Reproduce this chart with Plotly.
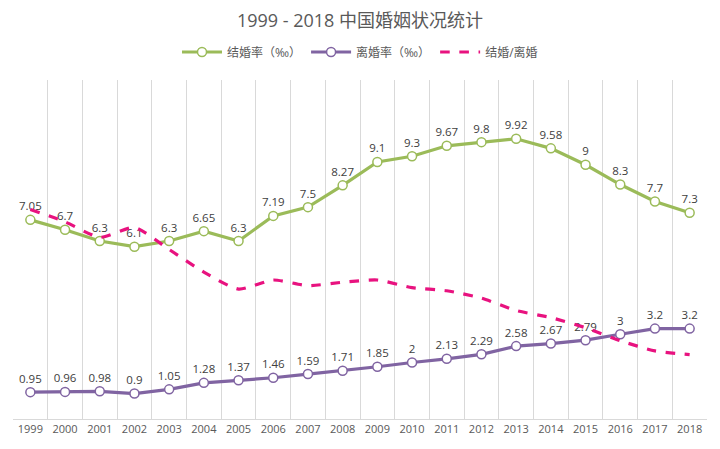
import plotly.graph_objects as go

years = [str(y) for y in range(1999, 2019)]
marriage = [7.05, 6.7, 6.3, 6.1, 6.3, 6.65, 6.3, 7.19, 7.5, 8.27, 9.1, 9.3, 9.67, 9.8, 9.92, 9.58, 9, 8.3, 7.7, 7.3]
divorce = [0.95, 0.96, 0.98, 0.9, 1.05, 1.28, 1.37, 1.46, 1.59, 1.71, 1.85, 2, 2.13, 2.29, 2.58, 2.67, 2.79, 3, 3.2, 3.2]
ratio = [7.42, 6.98, 6.43, 6.78, 6.0, 5.2, 4.6, 4.92, 4.72, 4.84, 4.92, 4.65, 4.54, 4.28, 3.84, 3.59, 3.23, 2.77, 2.41, 2.28]

GREEN = "#9BBB59"
PURPLE = "#8064A2"
PINK = "#E8127F"
FONT = "Open Sans, Noto Sans CJK SC, sans-serif"

fig = go.Figure()
fig.add_trace(go.Scatter(
    x=years, y=marriage, name="结婚率（‰）", mode="lines+markers+text",
    text=[str(v) for v in marriage], textposition="top center",
    textfont=dict(size=11.5, color="#404040", family=FONT),
    line=dict(color=GREEN, width=3.2),
    marker=dict(size=9, color="white", line=dict(color=GREEN, width=1.5)),
))
fig.add_trace(go.Scatter(
    x=years, y=divorce, name="离婚率（‰）", mode="lines+markers+text",
    text=[str(v) for v in divorce], textposition="top center",
    textfont=dict(size=11.5, color="#404040", family=FONT),
    line=dict(color=PURPLE, width=3.2),
    marker=dict(size=9, color="white", line=dict(color=PURPLE, width=1.5)),
))
fig.add_trace(go.Scatter(
    x=years, y=ratio, name="结婚/离婚", mode="lines",
    line=dict(color=PINK, width=3.2, dash="dash", shape="spline", smoothing=0.6),
))

fig.update_layout(
    width=720, height=449,
    margin=dict(l=13, r=13, t=80, b=30),
    paper_bgcolor="white", plot_bgcolor="white",
    font=dict(family=FONT, color="#595959"),
    title=dict(text="1999 - 2018 中国婚姻状况统计", x=0.5, xanchor="center",
               y=1 - 21 / 449, yanchor="middle", yref="container",
               font=dict(size=18, color="#595959", family=FONT)),
    legend=dict(orientation="h", x=0.5, xanchor="center", y=1 - 52 / 449,
                yanchor="middle", yref="container",
                font=dict(size=12, color="#595959", family=FONT),
                itemwidth=40, tracegroupgap=0),
    xaxis=dict(type="category", range=[-0.5, 19.5], tickson="boundaries",
               showgrid=True, gridcolor="#D9D9D9", gridwidth=1,
               showline=True, linecolor="#D9D9D9", linewidth=1,
               ticks="", tickangle=0,
               tickfont=dict(size=11, color="#595959", family=FONT),
               mirror=False),
    yaxis=dict(range=[0, 12], visible=False, showgrid=False, zeroline=False),
    showlegend=True,
)

fig.write_html("out.html")
